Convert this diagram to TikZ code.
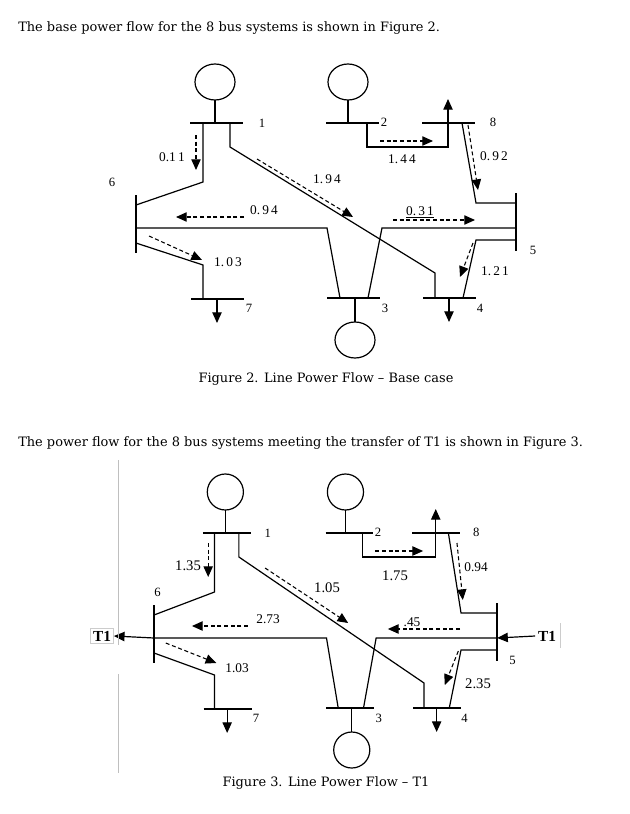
\documentclass[tikz,border=0pt]{standalone}
\usepackage{fontspec}
\setmainfont{Liberation Serif}
\newfontfamily\capfont{DejaVu Serif}
\usetikzlibrary{arrows.meta}
\begin{document}
\begin{tikzpicture}[x=0.75pt,y=-0.75pt,
  ln/.style={line width=0.9pt},
  bus/.style={line width=1.6pt},
  load/.style={line width=0.9pt,-{Triangle[width=7pt,length=8pt]}},
  flow/.style={line width=0.8pt,dash pattern=on 3pt off 2pt,-{Triangle[width=7pt,length=8pt]}},
  bl/.style={font=\fontsize{9.5}{9.5}\selectfont},
  vl/.style={font=\fontsize{10}{10}\selectfont,inner sep=0pt},
  vb/.style={font=\fontsize{11}{11}\selectfont,inner sep=0pt},
  tx/.style={font=\capfont\fontsize{9.7}{12}\selectfont,anchor=west,inner sep=0pt}]
\useasboundingbox (0,0) rectangle (629,814);
\newcommand{\netdraw}[1]{%
  \draw[ln] (215,82) ellipse (20 and 18);
  \draw[ln] (215,100) -- (215,123);
  \draw[ln] (348,82) ellipse (20 and 18);
  \draw[ln] (348,100) -- (348,123);
  \draw[ln] (355,340) ellipse (20 and 18);
  \draw[ln] (355,298) -- (355,322);
  \draw[bus] (190,123) -- (243,123);
  \draw[bus] (326,123) -- (379,123);
  \draw[bus] (422,123) -- (475,123);
  \draw[bus] (136,195) -- (136,253);
  \draw[bus] (516,193) -- (516,251);
  \draw[bus] (327,298) -- (380,298);
  \draw[bus] (423,298) -- (476,298);
  \draw[bus] (191,299) -- (244,299);
  \draw[ln] (203,123) -- (203,182) -- (136,205);
  \draw[ln] (230,123) -- (230,147) -- (435,273) -- (435,298);
  \draw[ln] (136,228) -- (327,228) -- (340,298);
  \draw[ln] (368,298) -- (382,228) -- (516,228);
  \draw[ln] (136,243) -- (203,265) -- (203,299);
  \draw[ln] (367,123) -- (367,147) -- (448,147) -- (448,123);
  \draw[ln] (462,123) -- (476,203) -- (516,203);
  \draw[ln] (516,240) -- (476,240) -- (463,298);
  \draw[load] (448,123) -- (448,99);
  \draw[load] (449,298) -- (449,322);
  \draw[load] (217,299) -- (217,323);
  \node[bl] (n1) at (262,123) {1};
  \node[bl] (n2) at (384,122) {2};
  \node[bl] (n8) at (493,122) {8};
  \node[bl] (n6) at #1 {6};
  \node[bl] (n5) at (533,250) {5};
  \node[bl] (n3) at (385,308) {3};
  \node[bl] (n7) at (249,308) {7};
  \node[bl] (n4) at (480,308) {4};
}
\node[tx] (h1) at (18,28) {The base power flow for the 8 bus systems is shown in Figure 2.};
\node[tx] (h2) at (18,443) {The power flow for the 8 bus systems meeting the transfer of T1 is shown in Figure 3.};
% ---------- Figure 2
\begin{scope}
\netdraw{(112,182)}
\draw[flow] (196,135) -- (196,170);
\node[vl] (a1) at (172,157) {0.1\,1};
\draw[flow] (257,159) -- (353,217);
\node[vl] (a2) at (327,179) {1.\,9\,4};
\draw[flow] (380,141) -- (433,141);
\node[vl] (a3) at (402,159) {1.\,4\,4};
\draw[flow] (468,125) -- (478,190);
\node[vl] (a4) at (494,156) {0.\,9\,2};
\draw[flow] (244,217) -- (176,217);
\node[vl] (a5) at (264,210) {0.\,9\,4};
\draw[flow] (393,220) -- (475,220);
\node[vl] (a6) at (420,212) {\underline{0.\,3\,1}};
\draw[flow] (149,236) -- (202,260);
\node[vl] (a7) at (228,262) {1.\,0\,3};
\draw[flow] (473,243) -- (460,277);
\node[vl] (a8) at (495,271) {1.\,2\,1};
\end{scope}
\node[tx,anchor=center] (c2) at (326,379) {Figure 2. Line Power Flow – Base case};
% ---------- Figure 3
\begin{scope}[shift={(31.2,410)},xscale=0.903]
\netdraw{(140,182)}
\draw[flow] (196,133) -- (196,167);
\draw[flow] (259,158) -- (351,213);
\draw[flow] (381,141) -- (434,141);
\draw[flow] (471.5,133) -- (478,190);
\draw[flow] (240,216) -- (178,216);
\draw[flow] (475,219) -- (395,219);
\draw[flow] (149,233) -- (205,253);
\draw[flow] (473,241) -- (458,275);
\coordinate (b6) at (136,228);
\coordinate (b5) at (516,228);
\end{scope}
\node[vb] (b1) at (188,566) {1.35};
\node[vb] (b2) at (327,588) {1.05};
\node[vb] (b3) at (395,576) {1.75};
\node[vl] (b4) at (476,567) {0.94};
\node[vl] (b5l) at (268,619) {2.73};
\node[vl] (b6l) at (412,622) {.45};
\node[vl] (b7) at (237,668) {1.03};
\node[vb] (b8) at (478,684) {2.35};
\node[font=\bfseries\fontsize{11.5}{12}\selectfont,draw=gray!40,inner sep=2pt] (t1l) at (102,636) {T1};
\node[font=\bfseries\fontsize{11.5}{12}\selectfont,inner sep=2pt] (t1r) at (547,636) {T1};
\draw[load] (b6) -- (t1l.east);
\draw[load] (t1r.west) -- (b5);
\draw[gray!50] (118,460) -- (118,645);
\draw[gray!50] (118,674) -- (118,773);
\draw[gray!40] (560,623) -- (560,648);
\node[tx,anchor=center] (c3) at (326,783) {Figure 3. Line Power Flow – T1};
\end{tikzpicture}
\end{document}
